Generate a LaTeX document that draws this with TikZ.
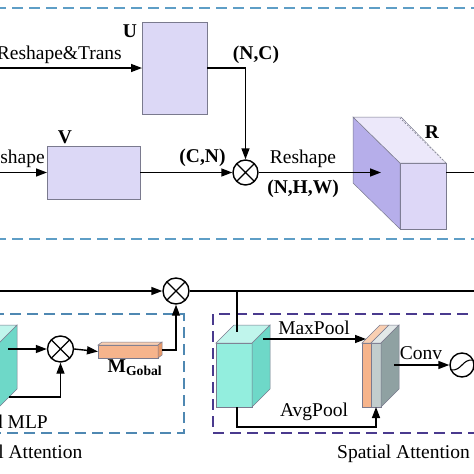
\documentclass[tikz,border=0pt]{standalone}
\usepackage{fontspec}
\setmainfont{Liberation Serif}
\usetikzlibrary{arrows.meta,calc}
\definecolor{dashblue}{HTML}{5E9EC6}
\definecolor{dashblueB}{HTML}{4F88B2}
\definecolor{dashpurple}{HTML}{4A3A8E}
\definecolor{lav}{HTML}{DCD8F6}
\definecolor{lavside}{HTML}{B6AEEA}
\definecolor{lavtop}{HTML}{ECE8FA}
\definecolor{lavfront}{HTML}{DDD7F7}
\definecolor{cyfront}{HTML}{93EEDE}
\definecolor{cyside}{HTML}{6ED8C8}
\definecolor{cytop}{HTML}{C0F5EC}
\definecolor{orfront}{HTML}{F6B48C}
\definecolor{ortop}{HTML}{F9CFB2}
\definecolor{orside}{HTML}{E89A6A}
\definecolor{gyfront}{HTML}{C2CDCD}
\definecolor{gyside}{HTML}{8FA1A2}
\definecolor{gytop}{HTML}{E2E8E8}
\definecolor{edgegray}{HTML}{7A7A8E}
\begin{document}
\begin{tikzpicture}[x=1pt,y=-1pt,
  conn/.style={line width=1.4pt, draw=black},
  arr/.style={conn, -{Triangle[length=11pt,width=8pt]}},
  txt/.style={font=\fontsize{19.5}{23}\selectfont, inner sep=0pt, anchor=base},
  btxt/.style={txt, font=\fontsize{19.5}{23}\selectfont\bfseries},
  dashline/.style={line width=1.5pt, dash pattern=on 11pt off 6pt},
  flatbox/.style={draw=edgegray, line width=0.6pt, fill=lav, inner sep=0pt, outer sep=0pt},
  face/.style={draw=edgegray, line width=0.5pt},
  cubef/.style={face, fill=cyfront, minimum width=36pt, minimum height=64pt, inner sep=0pt, outer sep=0pt},
  mult/.style={circle, draw, line width=1.4pt, fill=white, minimum size=25pt, inner sep=0pt,
    path picture={\draw[line width=1.2pt] (path picture bounding box.north west) -- (path picture bounding box.south east)
      (path picture bounding box.north east) -- (path picture bounding box.south west);}},
  sigc/.style={circle, draw, line width=1.4pt, fill=white, minimum size=24pt, inner sep=0pt}
]
\useasboundingbox (0,0) rectangle (474,474);

% ---------- top section ----------
\coordinate (tl) at (-5,8); \coordinate (tr) at (480,8);
\draw[dashline, dashblue] (tl) -- (tr);
\coordinate (ml) at (-5,239); \coordinate (mr) at (480,239);
\draw[dashline, dashblue] (ml) -- (mr);

% U
\node[flatbox, minimum width=65pt, minimum height=92pt] (U) at (174.5,68) {};
\node[btxt] (Ulab) at (130,37) {U};
\coordinate (inU) at (-5,68);
\draw[arr] (inU) -- (U.west);
\node[txt, anchor=base east] (lRT) at (122,59) {Reshape\&Trans};

% V
\node[flatbox, minimum width=93pt, minimum height=53pt] (V) at (93.5,172.5) {};
\node[btxt] (Vlab) at (65,143) {V};
\coordinate (inV) at (-5,172.5);
\draw[arr] (inV) -- (V.west);
\node[txt, anchor=base east] (lRV) at (45,163) {Reshape};

% multiply 1
\node[mult] (m1) at (245.5,172.5) {};
\draw[arr] (U.east) -| (m1.north);
\draw[arr] (V.east) -- (m1.west);
\node[btxt] (lNC) at (256,59) {(N,C)};
\node[btxt] (lCN) at (202.5,162) {(C,N)};

% R cuboid
\node[face, fill=lavfront, minimum width=46pt, minimum height=66pt, inner sep=0pt, outer sep=0pt] (Rf) at (423,196) {};
\filldraw[face, fill=lavside] (Rf.north west) -- ++(-47,-46) -- ++(0,66) -- (Rf.south west) -- cycle;
\filldraw[face, fill=lavtop] (Rf.north west) -- ++(-47,-46) -- ++(48,0) -- (Rf.north east) -- cycle;
\draw[line width=0.6pt, draw=white] (Rf.north east) -- ++(-47,-46);
\draw[line width=0.6pt, draw=edgegray, dash pattern=on 2pt off 1.5pt] (Rf.north east) -- ++(-47,-46);
\coordinate (Rin) at (381,172.5);
\draw[arr] (m1.east) -- (Rin);
\node[txt] (lRes) at (303,163) {Reshape};
\node[btxt] (lNHW) at (303,193) {(N,H,W)};
\node[btxt] (Rlab) at (432,138) {R};
\coordinate (Rout) at (Rf.east |- m1);
\coordinate (Rend) at (480,172.5);
\draw[conn] (Rout) -- (Rend);

% ---------- bottom section ----------
\coordinate (inB) at (-5,291);
\node[mult, minimum size=26pt] (m2) at (176,291) {};
\draw[arr] (inB) -- (m2.west);
\coordinate (outB) at (480,291);
\draw[conn] (m2.east) -- (outB);

% channel attention box
\coordinate (cb1) at (-10,314); \coordinate (cb2) at (184,433);
\draw[dashline, dashblueB] (cb1) rectangle (cb2);

% left cube
\node[cubef] (cubeL) at (-19,375) {};
\filldraw[face, fill=cyside] (cubeL.north east) -- ++(18,-18) -- ++(0,64) -- (cubeL.south east) -- cycle;
\filldraw[face, fill=cytop] (cubeL.north west) -- ++(18,-18) -- ++(36,0) -- (cubeL.north east) -- cycle;

\node[mult, minimum size=26pt] (m3) at (60.5,349) {};
\coordinate (cLa) at (8,349);
\draw[arr] (cLa) -- (m3.west);
\coordinate (cLb) at (9,397);
\draw[arr] (cLb) -| (m3.south);

% bar
\node[face, fill=orfront, minimum width=60pt, minimum height=13pt, inner sep=0pt, outer sep=0pt] (bar) at (128,351.5) {};
\filldraw[face, fill=ortop] (bar.north west) -- ++(4,-3) -- ++(60,0) -- (bar.north east) -- cycle;
\filldraw[face, fill=orside] (bar.north east) -- ++(4,-3) -- ++(0,13) -- (bar.south east) -- cycle;
\draw[arr] (m3.east) -- (bar.west);
\coordinate (barout) at (162,350);
\draw[arr] (barout) -| (m2.south);
\node[btxt] (lM) at (135,372) {M\textsubscript{Gobal}};

\node[txt, anchor=base east] (lMLP) at (48,428) {Shared MLP};
\node[txt, anchor=base east] (lCA) at (82.5,458) {Channel Attention};

% spatial attention box
\coordinate (sb1) at (213,314); \coordinate (sb2) at (485,433);
\draw[dashline, dashpurple] (sb1) rectangle (sb2);

% spatial cube
\node[cubef] (cubeS) at (234,375) {};
\filldraw[face, fill=cyside] (cubeS.north east) -- ++(18,-18) -- ++(0,64) -- (cubeS.south east) -- cycle;
\filldraw[face, fill=cytop] (cubeS.north west) -- ++(18,-18) -- ++(36,0) -- (cubeS.north east) -- cycle;
\coordinate (tap) at (237,291); \coordinate (tapEnd) at (237,332);
\draw[conn] (tap) -- (tapEnd);

% slab
\node[face, fill=orfront, minimum width=9pt, minimum height=64pt, inner sep=0pt, outer sep=0pt] (sO) at (366.5,375) {};
\node[face, fill=gyfront, minimum width=10pt, minimum height=64pt, inner sep=0pt, outer sep=0pt] (sG) at (376,375) {};
\filldraw[face, fill=ortop] (sO.north west) -- ++(18,-18) -- ++(9,0) -- (sO.north east) -- cycle;
\filldraw[face, fill=gytop] (sG.north west) -- ++(18,-18) -- ++(10,0) -- (sG.north east) -- cycle;
\filldraw[face, fill=gyside] (sG.north east) -- ++(18,-18) -- ++(0,64) -- (sG.south east) -- cycle;

\coordinate (mpA) at (263,339); \coordinate (mpB) at (366,339);
\draw[arr] (mpA) -- (mpB);
\node[txt] (lMax) at (314,334) {MaxPool};
\coordinate (apA) at (237,407); \coordinate (apMid) at (237,427);
\draw[arr] (apA) -- (apMid) -| (sG.south);
\node[txt] (lAvg) at (314,416) {AvgPool};

% conv + sigmoid
\node[sigc] (sg) at (462,365) {};
\draw[line width=1.1pt] ($(sg)+(-11,5)$) .. controls ($(sg)+(0,6)$) and ($(sg)+(0,-6)$) .. ($(sg)+(11,-5)$);
\coordinate (cvA) at (394,365);
\draw[arr] (cvA) -- (sg.west);
\node[txt] (lConv) at (421,359) {Conv};
\node[txt, anchor=base west] (lSA) at (337,458) {Spatial Attention};
\end{tikzpicture}
\end{document}
